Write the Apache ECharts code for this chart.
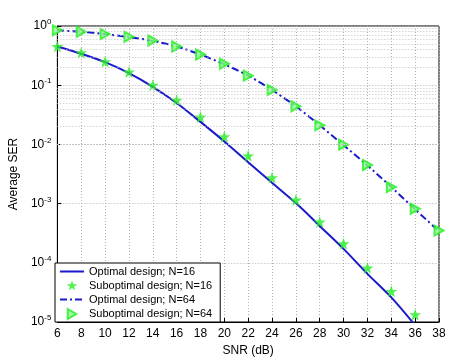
<!DOCTYPE html>
<html>
<head>
<meta charset="utf-8">
<script src="https://cdn.jsdelivr.net/npm/echarts@6/dist/echarts.min.js"></script>
<style>
html,body{margin:0;padding:0;background:#fff;}
#c{width:474px;height:363px;}
</style>
</head>
<body>
<div id="c"></div>
<script>
var snr = [6,8,10,12,14,16,18,20,22,24,26,28,30,32,34,36,38];
var optN16 = [0.45,0.34,0.245,0.16,0.094,0.05,0.024,0.0112,0.005,0.00225,0.00102,0.00042,0.000172,0.000065,0.000026,0.0000088];
var subN16 = [0.45,0.355,0.25,0.167,0.1,0.056,0.029,0.0135,0.0064,0.00275,0.00115,0.00049,0.00021,0.000082,0.000033,0.0000133];
var optN64 = [0.84,0.80,0.73,0.65,0.56,0.45,0.33,0.225,0.145,0.083,0.044,0.021,0.0097,0.0044,0.0019,0.0008,0.00034];
var subN64 = [0.845,0.80,0.73,0.66,0.57,0.45,0.33,0.23,0.145,0.083,0.044,0.021,0.0099,0.0045,0.0019,0.00082,0.00035];
var seriesNames = ['Optimal design; N=16','Suboptimal design; N=16','Optimal design; N=64','Suboptimal design; N=64'];

function pairs(vals){ return vals.map(function(v,i){ return [snr[i], v]; }); }

var minorLines = [];
for (var k = -5; k < 0; k++) {
  for (var m = 2; m <= 9; m++) minorLines.push({yAxis: m * Math.pow(10, k)});
}

var starPath = 'path://M50,0 L61.8,35.1 L98.1,35.1 L68.8,56.7 L79.4,91.9 L50,70 L20.6,91.9 L31.2,56.7 L1.9,35.1 L38.2,35.1 Z';
var triPath = 'path://M0,0 L17,10 L0,20 Z';
var blue = '#1a1acc';
var green = '#22ee22';
var font = 'Liberation Sans, Arial, sans-serif';

var chart = echarts.init(document.getElementById('c'), null, {renderer:'canvas'});
chart.setOption({
  animation: false,
  backgroundColor: '#fff',
  grid: {left: 54, right: 35, top: 26, bottom: 41, show: true, borderColor: '#000', borderWidth: 1},
  xAxis: {
    type: 'value', min: 6, max: 38, interval: 2,
    name: 'SNR (dB)', nameLocation: 'middle', nameGap: 21,
    nameTextStyle: {fontFamily: font, fontSize: 12, color: '#000'},
    axisLine: {lineStyle: {color: '#000'}},
    axisTick: {inside: true, length: 4, lineStyle: {color: '#000'}},
    axisLabel: {fontFamily: font, fontSize: 12, color: '#000', margin: 6},
    splitLine: {show: true, lineStyle: {color: '#b0b0b0', type: [1,2], width: 1}}
  },
  yAxis: {
    type: 'log', logBase: 10, min: 1e-5, max: 1,
    name: 'Average SER', nameLocation: 'middle', nameGap: 28, nameRotate: 90,
    nameTextStyle: {fontFamily: font, fontSize: 12, color: '#000'},
    axisLine: {lineStyle: {color: '#000'}},
    axisTick: {inside: true, length: 4, lineStyle: {color: '#000'}},
    axisLabel: {
      fontFamily: font, fontSize: 12, color: '#000', margin: 6,
      formatter: function(v){ var e = Math.round(Math.log10(v)); return '10{s|' + e + '}'; },
      rich: {s: {fontSize: 8, verticalAlign: 'top', padding: [0,0,8,0], fontFamily: font, color: '#000'}}
    },
    splitLine: {show: true, lineStyle: {color: '#b0b0b0', type: [1,2], width: 1}}
  },
  legend: {
    left: 55, top: 263, orient: 'vertical',
    backgroundColor: '#fff', borderColor: '#000', borderWidth: 1,
    padding: [3, 8, 2, 4], itemGap: 3, itemWidth: 24, itemHeight: 10,
    textStyle: {fontFamily: font, fontSize: 11, color: '#000'},
    data: [
      {name: seriesNames[0], itemStyle: {opacity: 0}},
      {name: seriesNames[1]},
      {name: seriesNames[2], itemStyle: {opacity: 0}},
      {name: seriesNames[3]}
    ]
  },
  series: [
    {
      name: seriesNames[0], type: 'line', data: pairs(optN16),
      symbol: 'none', smooth: 0.3, clip: true,
      lineStyle: {color: blue, width: 2}, itemStyle: {color: blue},
      markLine: {silent: true, symbol: 'none', label: {show: false},
        lineStyle: {color: '#c0c0c0', type: [1,2], width: 1}, data: minorLines},
      z: 3
    },
    {
      name: seriesNames[1], type: 'scatter', data: pairs(subN16),
      symbol: starPath, symbolSize: 12,
      itemStyle: {color: green}, z: 4
    },
    {
      name: seriesNames[2], type: 'line', data: pairs(optN64),
      symbol: 'none', smooth: 0.3, clip: true,
      lineStyle: {color: blue, width: 2, type: [7,3,2,3]}, itemStyle: {color: blue},
      z: 3
    },
    {
      name: seriesNames[3], type: 'scatter', data: pairs(subN64),
      symbol: triPath, symbolSize: [9, 10],
      itemStyle: {color: '#88ff88', borderColor: green, borderWidth: 2}, z: 4
    }
  ]
});
</script>
</body>
</html>
